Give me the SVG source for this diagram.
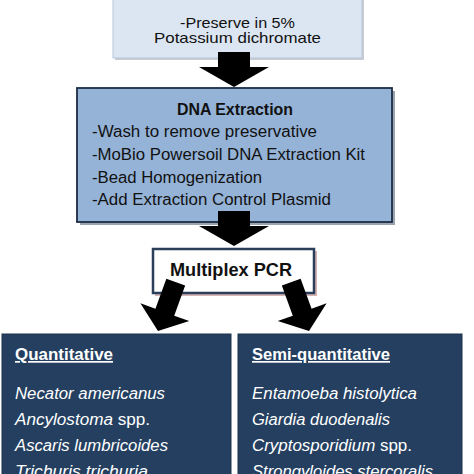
<svg xmlns="http://www.w3.org/2000/svg" width="474" height="474" viewBox="0 0 474 474">
<defs>
<style>
.t{font-family:"Liberation Sans",Arial,sans-serif;font-size:16px;fill:#111}
.tb{font-family:"Liberation Sans",Arial,sans-serif;font-size:16px;font-weight:bold;fill:#111}
.w{font-family:"Liberation Sans",Arial,sans-serif;font-size:16px;fill:#fff}
.wi{font-family:"Liberation Sans",Arial,sans-serif;font-size:16px;font-style:italic;fill:#fff}
.arrow{fill:#000}
</style>
<polygon id="bigArrow" points="-16,0 16,0 16,15 35,15 0,35 -35,15 -16,15"/>
<polygon id="diagArrow" points="-10,-4 10,-4 10,28 26,28 0,48 -26,28 -10,28"/>
</defs>
<rect width="474" height="474" fill="#fff"/>
<g id="node-preserve">
<rect x="115" y="-4" width="249" height="64" fill="#c9ccd2"/>
<rect x="113" y="-6" width="249" height="64" fill="#dce6f2" stroke="#b7c6d9" stroke-width="1"/>
<text class="t" x="237.5" y="28" text-anchor="middle" style="font-size:15px" textLength="115" lengthAdjust="spacingAndGlyphs">-Preserve in 5%</text>
<text class="t" x="237.5" y="43" text-anchor="middle" style="font-size:15px" textLength="167" lengthAdjust="spacingAndGlyphs">Potassium dichromate</text>
</g>
<g id="node-dna">
<rect x="80" y="91" width="315" height="134" fill="#9aa3ae"/>
<rect x="77" y="88" width="315" height="134" fill="#95b3d7" stroke="#1c2d44" stroke-width="1.8"/>
<text class="tb" x="235" y="115" text-anchor="middle" textLength="116" lengthAdjust="spacingAndGlyphs">DNA Extraction</text>
<text class="t" x="92" y="137" textLength="225" lengthAdjust="spacingAndGlyphs">-Wash to remove preservative</text>
<text class="t" x="92" y="160" textLength="273" lengthAdjust="spacingAndGlyphs">-MoBio Powersoil DNA Extraction Kit</text>
<text class="t" x="92" y="183" textLength="170" lengthAdjust="spacingAndGlyphs">-Bead Homogenization</text>
<text class="t" x="92" y="205" textLength="239" lengthAdjust="spacingAndGlyphs">-Add Extraction Control Plasmid</text>
</g>
<g id="node-pcr">
<rect x="155" y="251" width="162" height="45" fill="#d6b4b4"/>
<rect x="153" y="249" width="161" height="44" fill="#fff" stroke="#2b3e5a" stroke-width="2.5"/>
<text class="tb" x="231" y="276" text-anchor="middle" style="font-size:18px" textLength="122" lengthAdjust="spacingAndGlyphs">Multiplex PCR</text>
</g>
<g id="node-quant">
<rect x="2" y="334" width="229" height="145" fill="#243f60" stroke="#1d324d" stroke-width="1"/>
<text class="w" x="15" y="360" style="font-weight:bold;text-decoration:underline;font-size:17px" textLength="98" lengthAdjust="spacingAndGlyphs">Quantitative</text>
<text class="wi" x="15" y="399" textLength="150" lengthAdjust="spacingAndGlyphs">Necator americanus</text>
<text class="wi" x="15" y="425" textLength="135" lengthAdjust="spacingAndGlyphs">Ancylostoma <tspan style="font-style:normal">spp.</tspan></text>
<text class="wi" x="15" y="451" textLength="153" lengthAdjust="spacingAndGlyphs">Ascaris lumbricoides</text>
<text class="wi" x="15" y="477" textLength="133" lengthAdjust="spacingAndGlyphs">Trichuris trichuria</text>
</g>
<g id="node-semi">
<rect x="238" y="334" width="224" height="145" fill="#243f60" stroke="#1d324d" stroke-width="1"/>
<text class="w" x="252" y="360" style="font-weight:bold;text-decoration:underline;font-size:17px" textLength="138" lengthAdjust="spacingAndGlyphs">Semi-quantitative</text>
<text class="wi" x="252" y="399" textLength="165" lengthAdjust="spacingAndGlyphs">Entamoeba histolytica</text>
<text class="wi" x="252" y="425" textLength="138" lengthAdjust="spacingAndGlyphs">Giardia duodenalis</text>
<text class="wi" x="252" y="451" textLength="160" lengthAdjust="spacingAndGlyphs">Cryptosporidium <tspan style="font-style:normal">spp.</tspan></text>
<text class="wi" x="252" y="477" textLength="181" lengthAdjust="spacingAndGlyphs">Strongyloides stercoralis</text>
</g>
<g id="connectors">
<use href="#bigArrow" class="arrow" transform="translate(234,52)"/>
<use href="#bigArrow" class="arrow" transform="translate(234,211)"/>
<use href="#diagArrow" class="arrow" transform="translate(174.4,285.9) rotate(20)"/>
<use href="#diagArrow" class="arrow" transform="translate(292.6,285.9) rotate(-20)"/>
</g>
</svg>
